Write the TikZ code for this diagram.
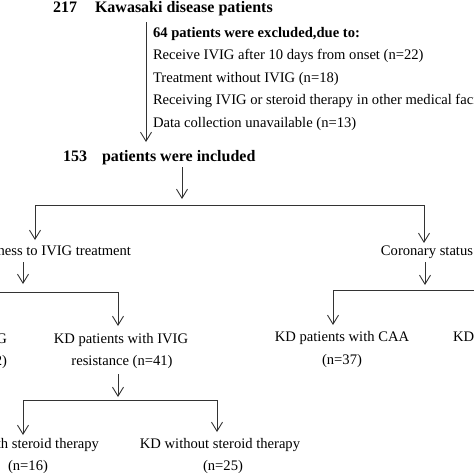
\documentclass[tikz,border=0pt]{standalone}
\usepackage{fontspec}
\setmainfont{Liberation Serif}
\usetikzlibrary{arrows.meta}
\begin{document}
\begin{tikzpicture}[x=1pt,y=-1pt,
  txt/.style={inner sep=0pt,outer sep=0pt,font=\fontsize{14.6}{17}\selectfont},
  hd/.style={inner sep=0pt,outer sep=0pt,font=\fontsize{16}{19}\selectfont\bfseries},
  hdsmall/.style={inner sep=0pt,outer sep=0pt,font=\fontsize{14.6}{17}\selectfont\bfseries},
  ln/.style={draw=black!80,line width=0.9pt},
  arr/.style={ln,-{Straight Barb[length=9pt,width=11pt,line width=0.9pt]}}]
\useasboundingbox (0,0) rectangle (474,474);
\clip (0,0) rectangle (474,474);
% top
\node[hd,anchor=base west] (n217) at (53,12) {217};
\node[hd,anchor=base west] (kd) at (95,12) {Kawasaki disease patients};
\node[hdsmall,anchor=base west] (ex0) at (153,37) {64 patients were excluded,due to:};
\node[txt,anchor=base west] (ex1) at (153,59) {Receive IVIG after 10 days from onset (n=22)};
\node[txt,anchor=base west] (ex2) at (153,82) {Treatment without IVIG (n=18)};
\node[txt,anchor=base west] (ex3) at (153,104) {Receiving IVIG or steroid therapy in other medical facilities (n=11)};
\node[txt,anchor=base west] (ex4) at (153,127) {Data collection unavailable (n=13)};
\node[hd,anchor=base west] (n153) at (63,161) {153};
\node[hd,anchor=base west] (inc) at (102,161) {patients were included};
\coordinate (a0s) at (146,22);
\coordinate (a0e) at (146,142);
\draw[arr] (a0s) -- (a0e);
% split 1
\coordinate (a1s) at (182,167);
\coordinate (a1e) at (182,199);
\draw[arr] (a1s) -- (a1e);
\coordinate (h1l) at (35,205);
\coordinate (h1r) at (424,205);
\coordinate (h1le) at (35,240);
\coordinate (h1re) at (424,243);
\draw[ln] (h1l) -- (h1r);
\draw[arr] (h1l) -- (h1le);
\draw[arr] (h1r) -- (h1re);
\node[txt,anchor=base east] (resp) at (131,255) {Responsiveness to IVIG treatment};
\node[txt,anchor=base] (cor) at (427,255) {Coronary status};
% left branch
\coordinate (a2s) at (23,262);
\coordinate (a2e) at (23,284);
\draw[arr] (a2s) -- (a2e);
\coordinate (h2l) at (-100,292);
\coordinate (h2r) at (118,292);
\coordinate (h2re) at (118,326);
\draw[ln] (h2l) -- (h2r);
\draw[arr] (h2r) -- (h2re);
\node[txt,anchor=base east] (sen1) at (7,343) {KD patients without IVIG};
\node[txt,anchor=base east] (sen2) at (7,365) {resistance (n=112)};
\node[txt,anchor=base] (res1) at (121,343) {KD patients with IVIG};
\node[txt,anchor=base] (res2) at (122,365) {resistance (n=41)};
% right branch
\coordinate (a3s) at (425,262);
\coordinate (a3e) at (425,285);
\draw[arr] (a3s) -- (a3e);
\coordinate (h3l) at (333,290);
\coordinate (h3r) at (560,290);
\coordinate (h3le) at (333,325);
\draw[ln] (h3l) -- (h3r);
\draw[arr] (h3l) -- (h3le);
\node[txt,anchor=base] (caa1) at (342,341) {KD patients with CAA};
\node[txt,anchor=base] (caa2) at (342,364) {(n=37)};
\node[txt,anchor=base west] (nca1) at (453,341) {KD patients without CAA};
% steroid split
\coordinate (a4s) at (118,374);
\coordinate (a4e) at (118,397);
\draw[arr] (a4s) -- (a4e);
\coordinate (h4l) at (23,400);
\coordinate (h4r) at (217,400);
\coordinate (h4le) at (23,435);
\coordinate (h4re) at (217,432);
\draw[ln] (h4l) -- (h4r);
\draw[arr] (h4l) -- (h4le);
\draw[arr] (h4r) -- (h4re);
\node[txt,anchor=base east] (st1) at (99,448) {KD with steroid therapy};
\node[txt,anchor=base] (st2) at (28,470) {(n=16)};
\node[txt,anchor=base] (ns1) at (220,448) {KD without steroid therapy};
\node[txt,anchor=base] (ns2) at (223,470) {(n=25)};
\end{tikzpicture}
\end{document}
